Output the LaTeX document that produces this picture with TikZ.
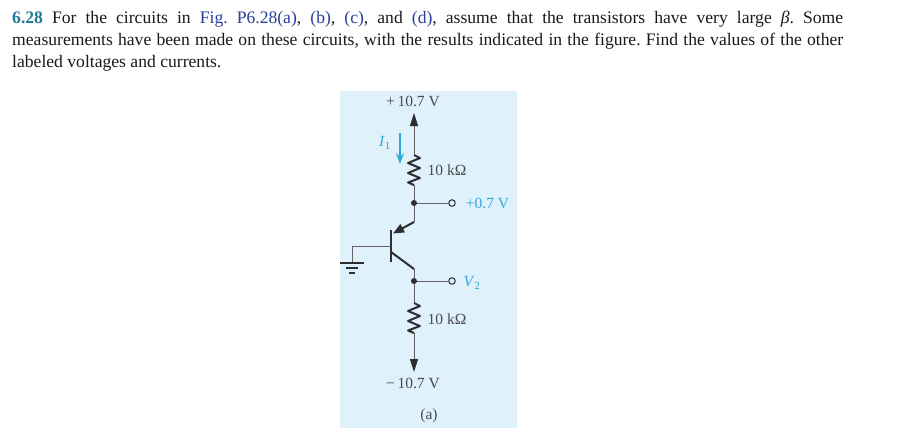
\documentclass[tikz,border=0pt]{standalone}
\usepackage{fontspec}
\setmainfont{Liberation Serif}
\usetikzlibrary{arrows.meta}
\definecolor{panel}{HTML}{DFF2FC}
\definecolor{ink}{HTML}{2E2E30}
\definecolor{lab}{HTML}{4A4A4C}
\definecolor{cyanl}{HTML}{2FA9DC}
\definecolor{teal28}{HTML}{1F7C96}
\definecolor{figblue}{HTML}{2A3F9A}
\definecolor{body}{HTML}{1A1A1A}
\tikzset{
  wire/.style={draw=ink!75,line width=1pt},
  thick wire/.style={draw=ink,line width=2.6pt},
  res/.style={draw=ink,line width=2pt,line join=round},
  dot/.style={circle,fill=ink,inner sep=0pt,minimum size=6pt},
  open/.style={circle,draw=ink,fill=panel,line width=1pt,inner sep=0pt,minimum size=6.5pt},
  pt/.style={font=\fontsize{15.5}{17}\selectfont,text=lab,inner sep=0pt},
  cy/.style={font=\fontsize{15.5}{17}\selectfont,text=cyanl,inner sep=0pt},
  para/.style={anchor=base west,inner sep=0pt,text=body,font=\fontsize{17.6}{22}\selectfont},
}
\newcommand{\fg}[1]{\textcolor{figblue}{#1}}
\begin{document}
\frenchspacing
\begin{tikzpicture}[x=1pt,y=-1pt]
\useasboundingbox (0,0) rectangle (907,432);
\fill[white] (0,0) rectangle (907,432);
\fill[panel] (340,91) rectangle (517,428);

\node[para] (l1) at (12,23) {\makebox[831pt][s]{\textcolor{teal28}{\textbf{6.28}} For the circuits in \fg{Fig. P6.28(a)}, \fg{(b)}, \fg{(c)}, and \fg{(d)}, assume that the transistors have very large \textit{β}. Some}};
\node[para] (l2) at (12,45.5) {\makebox[831pt][s]{measurements have been made on these circuits, with the results indicated in the figure. Find the values of the other}};
\node[para] (l3) at (12,67) {labeled voltages and currents.};

\coordinate (top) at (414,113);
\coordinate (r1t) at (414,155);
\coordinate (r1b) at (414,185);
\node[dot] (n1) at (414,203) {};
\node[open] (o1) at (452,203) {};
\coordinate (ee) at (414,222);
\coordinate (et) at (393,233.5);
\coordinate (bt) at (391,230);
\coordinate (bb) at (391,262);
\coordinate (bm) at (391,246);
\coordinate (bc) at (352,246);
\coordinate (g1) at (352,263);
\coordinate (cs) at (391,252);
\coordinate (ce) at (414,269);
\node[dot] (n2) at (414,281) {};
\node[open] (o2) at (452,281) {};
\coordinate (r2t) at (414,303);
\coordinate (r2b) at (414,333);
\coordinate (bot) at (414,372);

\draw[wire,-{Triangle[length=13pt,width=8pt,color=ink]}] (r1t) -- (top);
\draw[wire] (r1b) -- (n1) -- (ee);
\draw[wire] (n1) -- (o1);
\draw[wire] (ce) -- (n2) -- (r2t);
\draw[wire] (n2) -- (o2);
\draw[wire,-{Triangle[length=13pt,width=8pt,color=ink]}] (r2b) -- (bot);

\draw[res] (r1t) -- ++(6,3) -- ++(-12,5) -- ++(12,5) -- ++(-12,5) -- ++(12,5) -- ++(-12,4.5) -- (r1b);
\draw[res] (r2t) -- ++(6,3) -- ++(-12,5) -- ++(12,5) -- ++(-12,5) -- ++(12,5) -- ++(-12,4.5) -- (r2b);

\draw[thick wire] (bt) -- (bb);
\draw[wire] (bm) -- (bc) -- (g1);
\draw[draw=ink,line width=2pt,-{Triangle[length=11pt,width=9pt,color=ink]}] (ee) -- (et);
\draw[draw=ink,line width=2pt] (cs) -- (ce);

\draw[draw=ink,line width=2pt] (340,263) -- (364,263);
\draw[draw=ink,line width=2pt] (346,268) -- (358,268);
\draw[draw=ink,line width=2pt] (349,273) -- (355,273);

\coordinate (ia) at (400,133);
\coordinate (ib) at (400,164);
\draw[cyanl,line width=1.3pt,-{Stealth[length=11pt,width=8pt]}] (ia) -- (ib);

\node[pt] (vp) at (413,101) {+\,10.7 V};
\node[pt] (r1l) at (447,170.5) {10 kΩ};
\node[cy] (v1) at (487.5,203.5) {+0.7 V};
\node[cy] (i1) at (385,143) {\textit{I}\textsubscript{1}};
\node[cy] (v2) at (472,283) {\textit{V}\textsubscript{2}};
\node[pt] (r2l) at (447,319) {10 kΩ};
\node[pt] (vm) at (413,383) {−\,10.7 V};
\node[pt] (cap) at (429,416) {(a)};
\end{tikzpicture}
\end{document}
